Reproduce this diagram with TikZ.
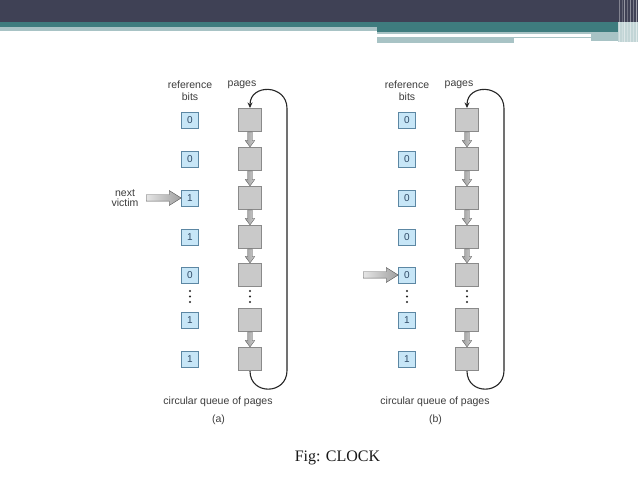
\documentclass[tikz,border=0pt]{standalone}
\usepackage{fontspec}
\setmainfont{Liberation Serif}
\newfontfamily\arialfont{Liberation Sans}
\usetikzlibrary{calc,arrows.meta}
\definecolor{hdark}{HTML}{3F4155}
\definecolor{hteal}{HTML}{3E7C7E}
\definecolor{hlight}{HTML}{A8C3C5}
\definecolor{bitfill}{HTML}{C7E6F7}
\definecolor{bitline}{HTML}{5C87A3}
\definecolor{bittext}{HTML}{2F4A66}
\definecolor{pagefill}{HTML}{C9C9C9}
\definecolor{pageline}{HTML}{8A8A8A}
\definecolor{txt}{HTML}{3C3C3C}
\tikzset{
  lbl/.style={font=\arialfont\fontsize{10.5}{12}\selectfont, text=txt, inner sep=0pt},
  bitbox/.style={draw=bitline, fill=bitfill, line width=0.6pt, minimum width=17pt, minimum height=16pt, inner sep=0pt, font=\arialfont\fontsize{10}{10}\selectfont, text=bittext},
  pagebox/.style={draw=pageline, fill=pagefill, line width=0.6pt, minimum width=23.5pt, minimum height=23.5pt, inner sep=0pt},
  varr/.style={draw=gray!70!black, line width=0.35pt, left color=gray!75, right color=gray!40},
  harr/.style={draw=gray!70!black, line width=0.4pt, left color=gray!20, right color=gray!75},
  loopline/.style={draw=black!85, line width=1.1pt, -{Stealth[length=5.5pt,width=5pt]}},
  dotmark/.style={fill=black!85},
}
\newcommand\clockpanel[5]{%
  \begin{scope}[xshift=#2]
    \node[lbl, align=center] (#1ref) at (190,91) {reference\\[-0.5pt]bits};
    \node[lbl] (#1pg) at (242,84.5) {pages};
    \foreach \yy/\bb [count=\i] in {#3} {
      \node[bitbox] (#1b\i) at (190,\yy) {\bb};
      \node[pagebox] (#1p\i) at (250,\yy) {};
    }
    \foreach \i/\j in {1/2,2/3,3/4,4/5,6/7} {
      \path[varr] ($(#1p\i.south)+(-2.3,0)$) -- ($(#1p\j.north)+(-2.3,-6.5)$)
        -- ($(#1p\j.north)+(-4.8,-6.5)$) -- (#1p\j.north)
        -- ($(#1p\j.north)+(4.8,-6.5)$) -- ($(#1p\j.north)+(2.3,-6.5)$)
        -- ($(#1p\i.south)+(2.3,0)$) -- cycle;
    }
    \foreach \xx in {190,250} {
      \foreach \yy in {291,296.5,302} {
        \fill[dotmark] (\xx,\yy) circle (1.1pt);
      }
    }
    \coordinate (#1c1) at (287,370.5);
    \coordinate (#1c2) at (287,108.5);
    \draw[loopline] (#1p7.south) .. controls +(0,24.5) and +(0,24.5) .. (#1c1)
      -- (#1c2) .. controls +(0,-24.5) and +(0,-24.5) .. (#1p1.north);
    \coordinate (#1v) at ($(#1b#4.west)+(-35,0)$);
    \path[harr] ($(#1v)+(0,-3.2)$) -- ($(#1b#4.west)+(-12,-3.2)$) -- ($(#1b#4.west)+(-12,-7.5)$)
      -- (#1b#4.west) -- ($(#1b#4.west)+(-12,7.5)$) -- ($(#1b#4.west)+(-12,3.2)$)
      -- ($(#1v)+(0,3.2)$) -- cycle;
    \node[lbl] (#1cq) at (218,402) {circular queue of pages};
    \node[lbl] (#1cap) at (218.5,420) {#5};
  \end{scope}}
\begin{document}
\begin{tikzpicture}[x=1pt,y=-1pt]
  \useasboundingbox (0,0) rectangle (638,478);
  \fill[white] (0,0) rectangle (638,478);
  % header
  \fill[hdark] (0,0) rectangle (638,22);
  \fill[hteal] (0,22) rectangle (638,27);
  \fill[hlight] (0,27) rectangle (377,31);
  \fill[hteal] (377,27) rectangle (638,31.7);
  \fill[hlight] (377,31.7) rectangle (638,34.3);
  \fill[hlight] (377,36.7) rectangle (514,42.7);
  \fill[hlight] (514,36.7) rectangle (591,38.5);
  \fill[hlight] (591,34.3) rectangle (618,40.7);
  \fill[hlight!70] (618,22) rectangle (638,42);
  \foreach \sx/\op in {619/0.35,621.5/0.2,624/0.45,627/0.25,630/0.4,633/0.3,636/0.5} {
    \fill[white, opacity=\op] (\sx,0) rectangle (\sx+1.2,43);
  }
  % panels
  \clockpanel{a}{0pt}{120/0,159/0,198/1,237/1,275/0,320/1,359/1}{3}{(a)}
  \clockpanel{b}{217pt}{120/0,159/0,198/0,237/0,275/0,320/1,359/1}{5}{(b)}
  \node[lbl, align=center] (victim) at (125,198) {next\\[-2pt]victim};
  \node[font=\fontsize{16}{18}\selectfont, text=black!90, inner sep=0pt] (fig) at (337.5,458) {Fig: CLOCK};
\end{tikzpicture}
\end{document}
